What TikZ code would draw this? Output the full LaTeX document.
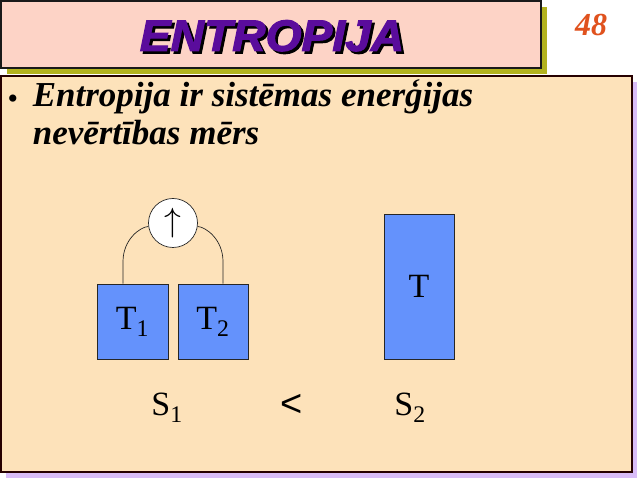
\documentclass[tikz,border=0pt]{standalone}
\usepackage{fontspec}
\setmainfont{Liberation Serif}
\setsansfont{Liberation Sans}
\newfontfamily\heavyfont{Liberation Sans}[BoldItalicFeatures={FakeBold=2.5}]
\usepackage{xcolor}
\usetikzlibrary{positioning}
\definecolor{titlefill}{HTML}{FDD3C6}
\definecolor{titleshade}{HTML}{B2B21E}
\definecolor{bodyfill}{HTML}{FDE2BA}
\definecolor{bodyshade}{HTML}{D9BDF8}
\definecolor{titletext}{HTML}{5A0C9C}
\definecolor{pagenum}{HTML}{E0521E}
\definecolor{boxblue}{HTML}{6492FC}
\newcommand{\shadowtext}[1]{\makebox[0pt][l]{\hspace{2.5pt}\raisebox{-2.5pt}{\color{black}#1}}#1}
\tikzset{
  tbox/.style={draw=black!85, fill=boxblue, line width=0.8pt, inner sep=0pt,
    font=\fontsize{34}{36}\selectfont},
  slabel/.style={font=\fontsize{34}{36}\selectfont, inner sep=0pt},
  wire/.style={line width=0.7pt, draw=black!85}
}
\begin{document}
\begin{tikzpicture}[x=1pt,y=1pt,line width=1.6pt]
    \useasboundingbox (0,0) rectangle (638,479);
    \fill[white] (0,0) rectangle (638,479);
    \fill[titleshade] (7,405) rectangle (547,472);
    \draw[fill=titlefill, draw=black!90] (1,411) rectangle (541,478);
    \fill[bodyshade] (6,1) rectangle (637,397);
    \draw[fill=bodyfill, draw=black!85!red] (1,7) rectangle (632,403);
    \node[font=\heavyfont\bfseries\itshape\fontsize{44}{48}\selectfont, text=titletext, xscale=1.05]
      (title) at (272,442) {\shadowtext{ENTROPIJA}};
    \node[font=\bfseries\itshape\fontsize{32}{32}\selectfont, text=pagenum] (num) at (591,454) {48};
    \node[font=\fontsize{30}{30}\selectfont, inner sep=0pt] (bul) at (13,377) {\textbullet};
    \node[font=\bfseries\itshape\fontsize{35}{38}\selectfont, anchor=base west, align=left, inner sep=0pt]
      (txt) at (32,334) {Entropija ir sistēmas enerģijas\\nevērtības mērs};
    \node[tbox, minimum width=71pt, minimum height=75pt] (t1) at (132.5,157.5) {T\textsubscript{1}};
    \node[tbox, minimum width=70pt, minimum height=75pt] (t2) at (213,157.5) {T\textsubscript{2}};
    \node[tbox, minimum width=70pt, minimum height=145pt] (t) at (419,192.5) {T};
    \node[circle, draw=black!85, fill=white, line width=0.7pt, minimum size=49pt, inner sep=0pt,
      font=\fontsize{24}{24}\selectfont] (meter) at (173,256) {\scalebox{1.35}{$\uparrow$}};
    \draw[wire] ([xshift=-9.5pt]t1.north) -- ++(0,22) .. controls +(0,22) and (140,252) .. (meter.188);
    \draw[wire] ([xshift=10pt]t2.north) -- ++(0,22) .. controls +(0,22) and (206,252) .. (meter.352);
    \node[slabel] (s1) at (167,71) {S\textsubscript{1}};
    \node[slabel, font=\sffamily\fontsize{38}{38}\selectfont] (lt) at (292,74) {<};
    \node[slabel] (s2) at (410,71) {S\textsubscript{2}};
  \end{tikzpicture}
\end{document}
